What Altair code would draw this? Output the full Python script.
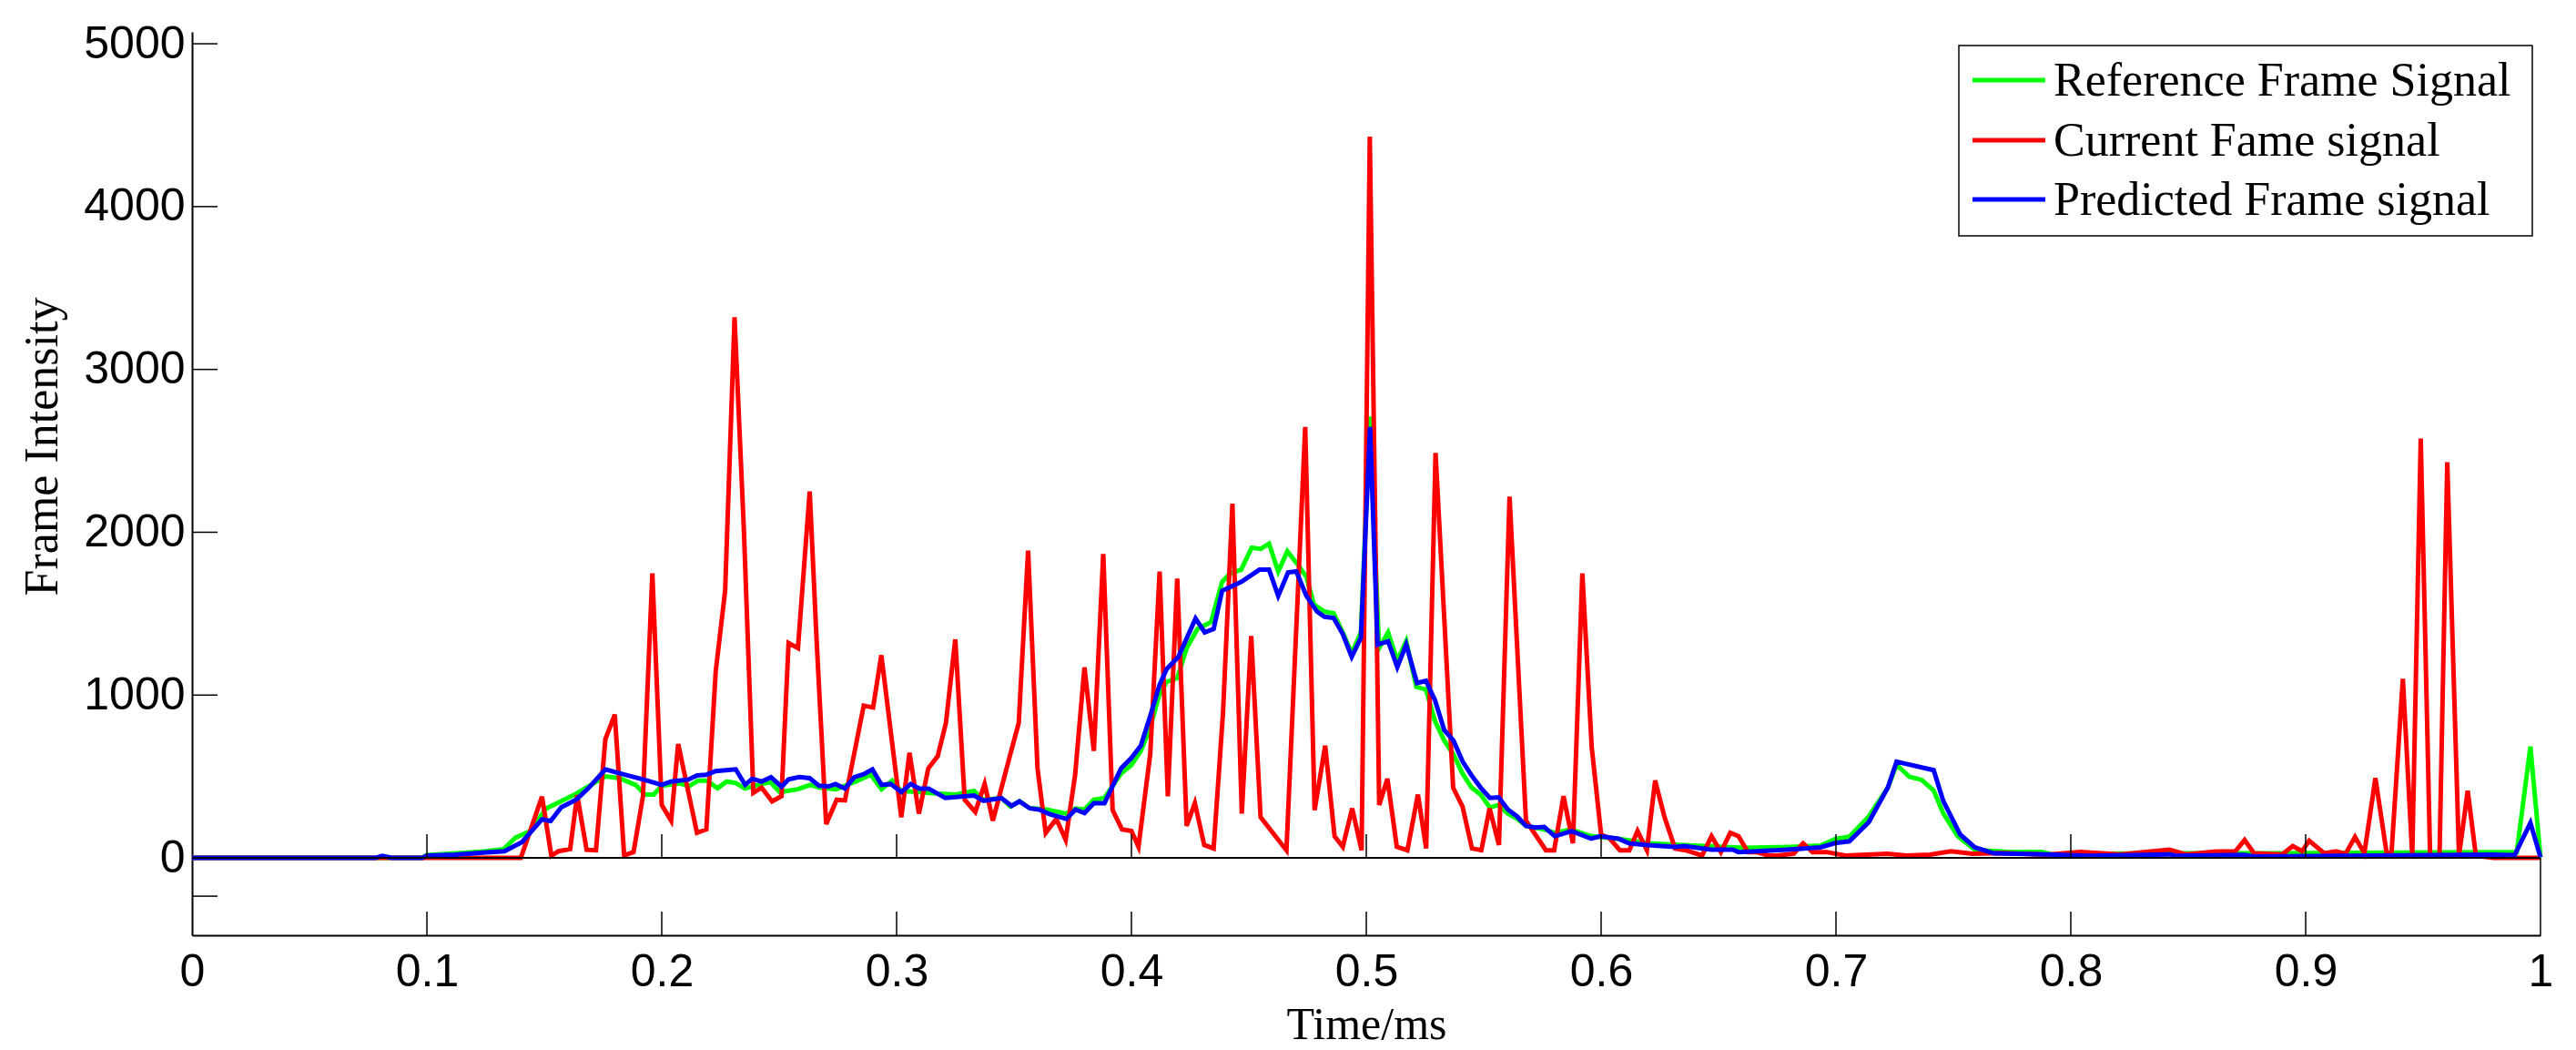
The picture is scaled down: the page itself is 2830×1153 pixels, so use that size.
import altair as alt
import pandas as pd

# ---------------- data ----------------
SERIES = ["Reference Frame Signal", "Current Fame signal", "Predicted Frame signal"]
COLORS = ["#00FF00", "#FF0000", "#0000FF"]

reference_points = [
    (0.0, 0), (0.098, 0), (0.100, 17), (0.117, 32), (0.125, 41), (0.1327, 54), (0.1378, 125),
    (0.1437, 162), (0.1507, 302), (0.1572, 349), (0.1637, 395), (0.169, 442), (0.176, 501),
    (0.182, 490), (0.189, 447), (0.1928, 389), (0.1966, 389), (0.200, 443), (0.2076, 458),
    (0.2115, 439), (0.2154, 475), (0.2193, 475), (0.2238, 428), (0.2276, 469), (0.2315, 460),
    (0.2354, 426), (0.2425, 454), (0.2463, 464), (0.2503, 404), (0.258, 422), (0.2632, 449),
    (0.267, 432), (0.2742, 422), (0.2826, 469), (0.289, 511), (0.2936, 422), (0.2981, 475),
    (0.302, 411), (0.3097, 404), (0.3162, 396), (0.3253, 389), (0.333, 411), (0.3369, 357),
    (0.3446, 368), (0.3485, 315), (0.3524, 349), (0.3565, 307), (0.3639, 297), (0.3723, 272),
    (0.3762, 304), (0.380, 297), (0.3839, 357), (0.3885, 368), (0.3956, 518), (0.400, 571),
    (0.404, 657), (0.4079, 796), (0.4118, 999), (0.415, 1081), (0.4196, 1106), (0.4235, 1288),
    (0.4281, 1406), (0.4339, 1449), (0.4386, 1695), (0.4421, 1748), (0.4467, 1770),
    (0.4512, 1905), (0.4551, 1898), (0.4586, 1930), (0.4625, 1759), (0.4664, 1883),
    (0.4702, 1813), (0.4745, 1727), (0.4777, 1556), (0.4822, 1513), (0.4861, 1502),
    (0.490, 1385), (0.4938, 1256), (0.4977, 1385), (0.5016, 2711), (0.5054, 1288),
    (0.5093, 1385), (0.5132, 1213), (0.517, 1331), (0.5213, 1050), (0.5254, 1035),
    (0.5293, 839), (0.5332, 721), (0.5371, 636), (0.541, 518), (0.5448, 432), (0.5487, 389),
    (0.5526, 310), (0.5564, 325), (0.5603, 272), (0.5642, 240), (0.568, 197), (0.5758, 175),
    (0.5803, 154), (0.5874, 175), (0.5958, 133), (0.607, 118), (0.620, 90), (0.6353, 79),
    (0.6611, 62), (0.6805, 68), (0.6934, 76), (0.6996, 116), (0.7057, 130), (0.714, 255),
    (0.7221, 432), (0.7258, 572), (0.7313, 498), (0.7365, 479), (0.7416, 414), (0.7457, 274),
    (0.7518, 134), (0.7591, 50), (0.7734, 37), (0.7878, 37), (0.792, 22), (0.837, 28),
    (0.8883, 28), (0.9766, 35), (0.9899, 35), (0.9957, 684), (1.0, 4),
]

current_points = [
    (0.0, 0), (0.140, 0), (0.149, 376), (0.153, 13), (0.156, 41), (0.161, 54), (0.164, 386),
    (0.168, 50), (0.172, 47), (0.176, 730), (0.180, 880), (0.184, 15), (0.188, 36),
    (0.192, 379), (0.196, 1748), (0.200, 325), (0.204, 229), (0.207, 700), (0.215, 154),
    (0.219, 175), (0.223, 1149), (0.227, 1641), (0.231, 3320), (0.235, 2005), (0.239, 400),
    (0.2425, 432), (0.247, 347), (0.251, 379), (0.254, 1320), (0.258, 1288), (0.263, 2251),
    (0.266, 1320), (0.270, 208), (0.2745, 357), (0.278, 353), (0.286, 935), (0.290, 924),
    (0.2935, 1245), (0.302, 250), (0.3055, 646), (0.3095, 272), (0.3135, 550), (0.3175, 625),
    (0.321, 828), (0.325, 1342), (0.329, 357), (0.3335, 282), (0.3375, 454), (0.341, 229),
    (0.348, 614), (0.352, 828), (0.356, 1887), (0.360, 550), (0.3635, 154), (0.368, 240),
    (0.372, 111), (0.376, 507), (0.380, 1170), (0.384, 657), (0.388, 1866), (0.392, 293),
    (0.396, 175), (0.400, 165), (0.403, 68), (0.408, 636), (0.412, 1759), (0.4155, 379),
    (0.4195, 1716), (0.4235, 197), (0.427, 336), (0.431, 79), (0.435, 58), (0.439, 892),
    (0.443, 2176), (0.447, 272), (0.451, 1363), (0.455, 250), (0.466, 47), (0.474, 2647),
    (0.478, 293), (0.4825, 689), (0.4865, 133), (0.490, 68), (0.494, 304), (0.498, 47),
    (0.5015, 4430), (0.5055, 325), (0.509, 486), (0.513, 68), (0.5175, 47), (0.522, 389),
    (0.5255, 58), (0.5295, 2487), (0.537, 430), (0.541, 315), (0.545, 58), (0.549, 47),
    (0.5525, 304), (0.5565, 79), (0.561, 2219), (0.568, 229), (0.572, 143), (0.5765, 47),
    (0.580, 47), (0.584, 379), (0.588, 90), (0.592, 1748), (0.596, 678), (0.600, 143),
    (0.6035, 122), (0.608, 47), (0.612, 47), (0.6155, 165), (0.6195, 47), (0.623, 475),
    (0.627, 250), (0.6315, 58), (0.636, 47), (0.643, 15), (0.647, 133), (0.651, 36),
    (0.655, 154), (0.6585, 133), (0.6625, 36), (0.666, 36), (0.6715, 15), (0.675, 15),
    (0.682, 26), (0.686, 90), (0.690, 36), (0.696, 36), (0.704, 15), (0.713, 20), (0.722, 25),
    (0.730, 15), (0.740, 20), (0.749, 41), (0.758, 25), (0.771, 30), (0.790, 20), (0.804, 37),
    (0.821, 22), (0.842, 50), (0.849, 22), (0.862, 39), (0.870, 39), (0.874, 110), (0.878, 28),
    (0.890, 22), (0.8945, 73), (0.8985, 41), (0.9015, 106), (0.908, 28), (0.913, 41),
    (0.917, 25), (0.921, 129), (0.925, 28), (0.9297, 490), (0.9345, 28), (0.9366, 40),
    (0.9414, 1100), (0.9454, 13), (0.949, 2575), (0.953, 13), (0.957, 13), (0.9603, 2430),
    (0.9653, 13), (0.969, 412), (0.9725, 13), (0.980, 0), (1.0, 0),
]

predicted_points = [
    (0.0, 0), (0.078, 0), (0.081, 12), (0.085, 0), (0.098, 0), (0.100, 15), (0.112, 20),
    (0.124, 32), (0.133, 41), (0.1405, 97), (0.149, 237), (0.1527, 227), (0.1572, 311),
    (0.1637, 358), (0.169, 432), (0.176, 544), (0.182, 520), (0.192, 482), (0.200, 449),
    (0.204, 469), (0.2115, 482), (0.215, 507), (0.219, 511), (0.223, 533), (0.2315, 544),
    (0.2355, 449), (0.2385, 486), (0.2425, 469), (0.2465, 496), (0.251, 437), (0.254, 482),
    (0.2585, 496), (0.263, 490), (0.267, 443), (0.271, 439), (0.274, 454), (0.278, 426),
    (0.282, 496), (0.286, 514), (0.2897, 544), (0.2936, 449), (0.2975, 454), (0.302, 404),
    (0.306, 454), (0.3097, 426), (0.3136, 426), (0.3207, 368), (0.333, 383), (0.337, 351),
    (0.3446, 368), (0.349, 319), (0.3523, 347), (0.3568, 304), (0.3607, 297), (0.3653, 268),
    (0.3723, 240), (0.3762, 297), (0.380, 276), (0.384, 336), (0.3885, 336), (0.3956, 550),
    (0.400, 614), (0.404, 689), (0.408, 871), (0.412, 1064), (0.415, 1160), (0.420, 1235),
    (0.4273, 1470), (0.4312, 1385), (0.435, 1406), (0.4386, 1641), (0.4467, 1695),
    (0.4545, 1770), (0.4586, 1770), (0.4625, 1609), (0.4667, 1753), (0.4702, 1759),
    (0.4745, 1609), (0.479, 1513), (0.4822, 1481), (0.4861, 1474), (0.490, 1374),
    (0.4938, 1235), (0.4977, 1352), (0.5016, 2647), (0.5048, 1310), (0.5093, 1331),
    (0.5132, 1171), (0.517, 1310), (0.5216, 1074), (0.5254, 1087), (0.5293, 967),
    (0.5332, 785), (0.5371, 721), (0.541, 593), (0.5448, 507), (0.5487, 432), (0.5526, 368),
    (0.5564, 372), (0.5603, 297), (0.5642, 255), (0.568, 197), (0.5719, 186), (0.5758, 190),
    (0.5803, 133), (0.5874, 165), (0.5958, 118), (0.5996, 133), (0.6074, 118), (0.6119, 90),
    (0.6197, 79), (0.6314, 68), (0.6353, 73), (0.6469, 51), (0.656, 51), (0.6585, 36),
    (0.6792, 51), (0.6934, 65), (0.6996, 91), (0.7057, 102), (0.714, 220), (0.7221, 432),
    (0.7258, 591), (0.7416, 539), (0.7457, 349), (0.7529, 144), (0.7591, 65), (0.7673, 28),
    (0.790, 22), (0.8083, 13), (0.8422, 22), (0.845, 13), (0.874, 19), (0.878, 9),
    (0.9787, 20), (0.989, 17), (0.9957, 215), (1.0, 4),
]

x_tick_values = [0, 0.1, 0.2, 0.3, 0.4, 0.5, 0.6, 0.7, 0.8, 0.9, 1.0]
x_inner_ticks = [0.1, 0.2, 0.3, 0.4, 0.5, 0.6, 0.7, 0.8, 0.9]
y_tick_values = [0, 1000, 2000, 3000, 4000, 5000]
y_extra_ticks = [-235]
Y_MIN, Y_MAX = -475, 5073

# ---------------- styling ----------------
W, H = 2580, 992
SANS = "Liberation Sans, Arial, Helvetica, sans-serif"
SERIF = "Liberation Serif, Times New Roman, serif"
LINE_W = 5

xscale = alt.Scale(domain=[0, 1], nice=False, zero=False)
yscale = alt.Scale(domain=[Y_MIN, Y_MAX], nice=False, zero=False)

x_axis = alt.Axis(
    values=x_tick_values, format="~g", labelFont=SANS, labelFontSize=50,
    labelColor="black", labelBaseline="alphabetic", labelPadding=55,
    labelFlush=False, labelOverlap=False, ticks=False, tickSize=0,
    domainColor="black", domainWidth=2, grid=False,
    title="Time/ms", titleFont=SERIF, titleFontSize=50, titleFontWeight="normal",
    titleColor="black", titleBaseline="alphabetic", titleY=113,
)
y_axis = alt.Axis(
    values=y_tick_values, format="d", labelFont=SANS, labelFontSize=50,
    labelColor="black", labelPadding=8, labelFlush=False, labelOverlap=False,
    ticks=False, tickSize=0, domainColor="black", domainWidth=2, grid=False,
    title="Frame Intensity", titleFont=SERIF, titleFontSize=52,
    titleFontWeight="normal", titleColor="black", titleAngle=270,
    titleBaseline="alphabetic", titleAlign="center", titleX=-149, titleY=455,
)


def X(field):
    return alt.X(field, scale=xscale, axis=x_axis, title="Time/ms")


def Y(field):
    return alt.Y(field, scale=yscale, axis=y_axis, title="Frame Intensity")


def series_layer(points, color):
    df = pd.DataFrame(points, columns=["t", "v"])
    return alt.Chart(df).mark_line(color=color, strokeWidth=LINE_W, strokeJoin="miter").encode(
        x=X("t:Q"), y=Y("v:Q"),
    )


green = series_layer(reference_points, COLORS[0])
red = series_layer(current_points, COLORS[1])
blue = series_layer(predicted_points, COLORS[2])

# zero line across the plot
zero_df = pd.DataFrame({"t": [0.0], "t1": [1.0], "v": [0]})
zero_rule = alt.Chart(zero_df).mark_rule(color="black", strokeWidth=2).encode(
    x=X("t:Q"), x2="t1:Q", y=Y("v:Q"),
)

# right edge segment below zero
edge_df = pd.DataFrame({"t": [1.0], "v": [Y_MIN], "v1": [0]})
edge_rule = alt.Chart(edge_df).mark_rule(color="black", strokeWidth=1.5).encode(
    x=X("t:Q"), y=Y("v:Q"), y2="v1:Q",
)

# inward y ticks
yt_df = pd.DataFrame({"v": y_tick_values + y_extra_ticks})
y_ticks = alt.Chart(yt_df).mark_rule(color="black", strokeWidth=1.5).encode(
    y=Y("v:Q"), x=alt.value(0), x2=alt.value(28),
)

# ticks standing on the zero line
xt_df = pd.DataFrame({"t": x_inner_ticks, "v": [0] * len(x_inner_ticks)})
x_ticks_zero = alt.Chart(xt_df).mark_rule(color="black", strokeWidth=1.5, y2Offset=-26).encode(
    x=X("t:Q"), y=Y("v:Q"), y2="v:Q",
)

# inward ticks on the bottom axis
x_ticks_bottom = alt.Chart(xt_df).mark_rule(color="black", strokeWidth=1.5).encode(
    x=X("t:Q"), y=alt.value(H), y2=alt.value(H - 26),
)

# legend box (pixel placement inside the plot area)
LX0, LX1, LY0, LY1 = 1941, 2571, 15, 224
ROW_Y = [53, 119, 184]
box = alt.Chart(pd.DataFrame({"k": [0]})).mark_rect(
    fill="white", stroke="black", strokeWidth=1.5
).encode(x=alt.value(LX0), x2=alt.value(LX1), y=alt.value(LY0), y2=alt.value(LY1))

legend_layers = [box]
for name, color, ry in zip(SERIES, COLORS, ROW_Y):
    ldf = pd.DataFrame({"label": [name]})
    legend_layers.append(
        alt.Chart(ldf).mark_rule(color=color, strokeWidth=5).encode(
            x=alt.value(LX0 + 15), x2=alt.value(LX0 + 95), y=alt.value(ry)
        )
    )
    legend_layers.append(
        alt.Chart(ldf).mark_text(
            font=SERIF, fontSize=52, align="left", baseline="alphabetic", color="black"
        ).encode(x=alt.value(LX0 + 104), y=alt.value(ry + 17), text="label:N")
    )

chart = alt.layer(
    green, red, blue, zero_rule, edge_rule, y_ticks, x_ticks_zero, x_ticks_bottom,
    *legend_layers,
).properties(
    width=W, height=H,
    padding={"left": 203, "top": 27, "right": 31, "bottom": 124},
    autosize=alt.AutoSizeParams(type="none"),
    background="white",
).configure_view(stroke=None)

chart.save("out.html", embed_options={"renderer": "svg", "actions": False})
